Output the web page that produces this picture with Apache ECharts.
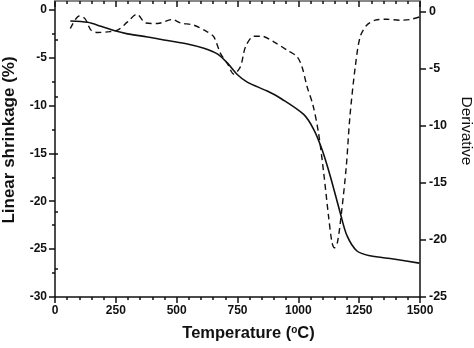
<!DOCTYPE html>
<html>
<head>
<meta charset="utf-8">
<script src="https://cdn.jsdelivr.net/npm/echarts@6/dist/echarts.min.js"></script>
<style>html,body{margin:0;padding:0;background:#fff}#c{width:474px;height:348px}</style>
</head>
<body>
<div id="c"></div>
<script>
// Linear shrinkage (solid, left axis)
const tempShrink = [63, 134, 189, 242, 298, 380, 462, 544, 612, 667, 708, 749, 790, 872, 930, 1022, 1063, 1097, 1131, 1172, 1200, 1241, 1295, 1391, 1497];
const shrink = [-1.18, -1.32, -1.74, -2.19, -2.53, -2.85, -3.23, -3.58, -4.03, -4.62, -5.56, -6.77, -7.57, -8.5, -9.3, -10.94, -12.5, -14.58, -17.36, -21.2, -23.6, -25.2, -25.7, -26.04, -26.46];
// Derivative (dashed, right axis)
const tempDeriv = [63, 100, 123, 148, 175, 216, 257, 298, 336, 373, 421, 482, 516, 571, 626, 653, 680, 708, 735, 762, 783, 817, 850, 899, 954, 995, 1015, 1036, 1060, 1083, 1104, 1124, 1138, 1148, 1161, 1179, 1197, 1212, 1234, 1254, 1281, 1316, 1363, 1418, 1459, 1497];
const deriv = [-1.51, -0.41, -0.64, -1.65, -1.86, -1.8, -1.65, -0.93, -0.26, -1.02, -1.07, -0.72, -1.02, -1.22, -1.8, -2.24, -3.68, -4.56, -5.49, -4.85, -3.11, -2.18, -2.18, -2.67, -3.4, -3.98, -4.85, -6.6, -8.2, -10.65, -14.1, -17.9, -20.2, -20.7, -20.2, -17.3, -13.6, -9.2, -4.85, -2.24, -1.22, -0.78, -0.7, -0.78, -0.72, -0.5];
// Tick values
const xTicks = [0, 250, 500, 750, 1000, 1250, 1500];
const leftTicks = [-30, -25, -20, -15, -10, -5, 0];
const leftMinor = [-27.5, -22.5, -17.5, -12.5, -7.5, -2.5];
const rightTicks = [-25, -20, -15, -10, -5, 0];
const rightMinor = [-22.5, -17.5, -12.5, -7.5, -2.5];

const FONT = 'Liberation Sans, Arial, sans-serif';
const black = '#111';
const chart = echarts.init(document.getElementById('c'));
const lbl = {fontFamily: FONT, fontWeight: 'bold', fontSize: 12, color: black, formatter: v => String(v)};

chart.setOption({
  animation: false,
  backgroundColor: '#fff',
  grid: {left: 55, right: 54, top: 1, bottom: 51, containLabel: false, outerBoundsMode: 'none'},
  xAxis: [{
    type: 'value', position: 'bottom', min: 0, max: 1500, interval: 250,
    axisLine: {show: true, onZero: false, lineStyle: {color: black, width: 1.5}},
    axisTick: {show: true, inside: false, length: 6, lineStyle: {color: black, width: 1.5}},
    minorTick: {show: true, splitNumber: 5, length: 3, lineStyle: {color: black, width: 1.5}},
    splitLine: {show: false}, minorSplitLine: {show: false},
    axisLabel: Object.assign({margin: 8, customValues: xTicks}, lbl),
    name: 'Temperature ({s|o}C)', nameLocation: 'middle', nameGap: 28,
    nameTextStyle: {fontFamily: FONT, fontWeight: 'bold', fontSize: 16.5, color: black, padding: [0, 0, 0, 22],
      rich: {s: {fontFamily: FONT, fontWeight: 'bold', fontSize: 10, color: black, verticalAlign: 'top', padding: [0, 0, 6, 0]}}}
  }, {
    type: 'value', position: 'top', min: 0, max: 1500, interval: 250,
    axisLine: {show: true, onZero: false, lineStyle: {color: '#888', width: 2}},
    axisTick: {show: true, inside: true, length: 6, lineStyle: {color: black, width: 1.5}},
    minorTick: {show: true, splitNumber: 5, length: 3, lineStyle: {color: black, width: 1.5}},
    splitLine: {show: false}, axisLabel: {show: false}
  }],
  yAxis: [{
    type: 'value', position: 'left', min: -30, max: 0.9,
    axisLine: {show: true, onZero: false, lineStyle: {color: black, width: 1.5}},
    axisTick: {show: true, length: 6, customValues: leftTicks, lineStyle: {color: black, width: 1.5}},
    splitLine: {show: false},
    axisLabel: Object.assign({margin: 8, customValues: leftTicks}, lbl),
    name: 'Linear shrinkage (%)', nameLocation: 'middle', nameGap: 37, nameRotate: 90,
    nameTextStyle: {fontFamily: FONT, fontWeight: 'bold', fontSize: 17, color: black, padding: [0, 0, 0, 18]}
  }, {
    type: 'value', position: 'left', min: -30, max: 0.9,
    axisLine: {show: false},
    axisTick: {show: true, length: 3, customValues: leftMinor, lineStyle: {color: black, width: 1.5}},
    splitLine: {show: false}, axisLabel: {show: false}
  }, {
    type: 'value', position: 'right', min: -25, max: 0.9,
    axisLine: {show: true, onZero: false, lineStyle: {color: black, width: 1.5}},
    axisTick: {show: true, length: 6, customValues: rightTicks, lineStyle: {color: black, width: 1.5}},
    splitLine: {show: false},
    axisLabel: Object.assign({margin: 9, customValues: rightTicks}, lbl, {fontSize: 12.5}),
    name: 'Derivative', nameLocation: 'middle', nameGap: 37, nameRotate: -90,
    nameTextStyle: {fontFamily: FONT, fontSize: 15.5, color: black, padding: [0, 36, 0, 0]}
  }, {
    type: 'value', position: 'right', min: -25, max: 0.9,
    axisLine: {show: false},
    axisTick: {show: true, length: 3, customValues: rightMinor, lineStyle: {color: black, width: 1.5}},
    splitLine: {show: false}, axisLabel: {show: false}
  }],
  series: [{
    type: 'line', xAxisIndex: 0, yAxisIndex: 0, smooth: 0.3, showSymbol: false,
    data: tempShrink.map((t, i) => [t, shrink[i]]),
    lineStyle: {color: black, width: 1.6}
  }, {
    type: 'line', xAxisIndex: 0, yAxisIndex: 2, smooth: 0.3, showSymbol: false,
    data: tempDeriv.map((t, i) => [t, deriv[i]]),
    lineStyle: {color: black, width: 1.4, type: [6, 4]}
  }]
});
</script>
</body>
</html>
